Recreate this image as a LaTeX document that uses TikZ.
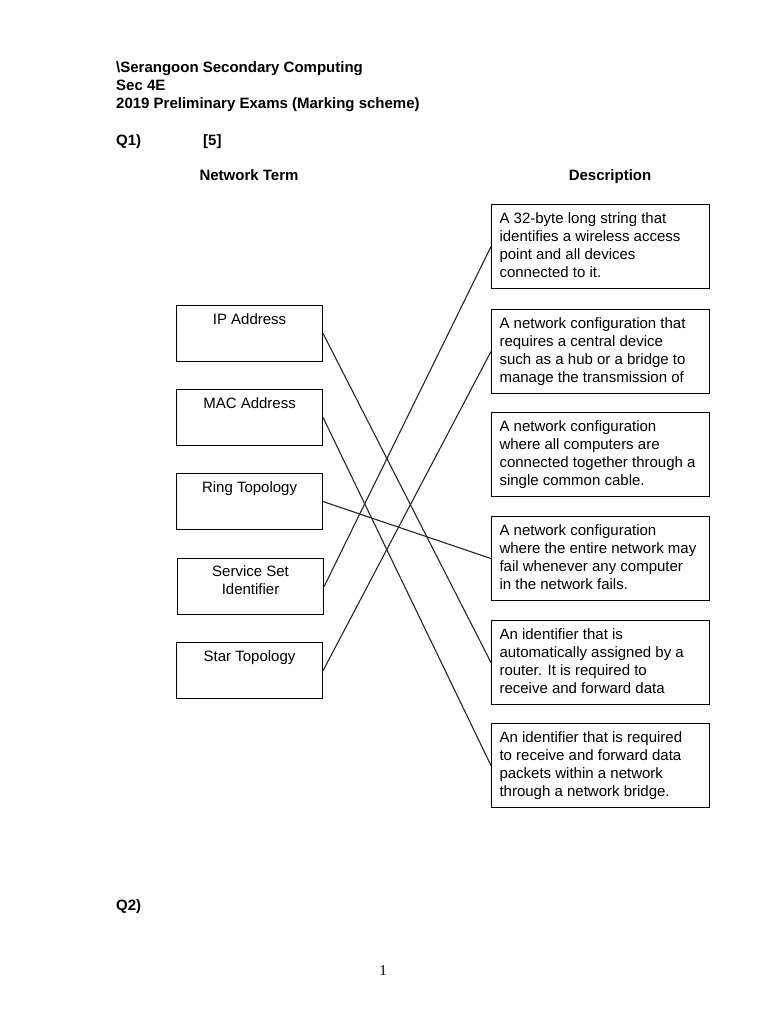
\documentclass[tikz,border=0pt]{standalone}
\usepackage{fontspec}
\setmainfont{Liberation Sans}
\newfontfamily\pagefont{Liberation Serif}
\usetikzlibrary{positioning}

\newcommand{\termtext}[2][18.5pt]{\parbox[t][56pt][t]{146pt}{\centering\rule{0pt}{#1}#2}}
\newcommand{\desctext}[1]{\parbox[t][84pt][t]{202pt}{\raggedright\rule{0pt}{18.5pt}#1}}

\begin{document}
\begin{tikzpicture}[x=1pt,y=-1pt,
font=\fontsize{15}{18}\selectfont,
every node/.style={inner sep=0pt},
heading/.style={anchor=base west,font=\fontsize{15}{18}\selectfont\bfseries},
termbox/.style={draw,line width=1.1pt,anchor=north west},
descbox/.style={draw,line width=1.1pt,anchor=north west,inner xsep=8pt},
match/.style={draw=black!85,line width=1.1pt}]
\useasboundingbox[fill=white] (0,0) rectangle (768,1024);

% header
\node[heading] (school) at (116,72.5) {\textbackslash Serangoon Secondary Computing};
\node[heading] (class) at (116,90.5) {Sec 4E};
\node[heading] (exam) at (116,108.5) {2019 Preliminary Exams (Marking scheme)};
\node[heading] (q1) at (116,145.5) {Q1)};
\node[heading] (marks) at (203,145.5) {[5]};
\node[heading,anchor=base] (termhead) at (249,180.5) {Network Term};
\node[heading,anchor=base] (deschead) at (610,180.5) {Description};

% network terms
\node[termbox] (ip) at (176,305) {\termtext{IP Address}};
\node[termbox] (mac) at (176,389) {\termtext{MAC Address}};
\node[termbox] (ring) at (176,473) {\termtext{Ring Topology}};
\node[termbox] (ssid) at (177,558) {\termtext[17.5pt]{Service Set\\Identifier}};
\node[termbox] (star) at (176,642) {\termtext{Star Topology}};

% descriptions
\node[descbox] (dssid) at (491,204) {\desctext{A 32-byte long string that\\identifies a wireless access\\point and all devices\\connected to it.}};
\node[descbox] (dstar) at (491,309) {\desctext{A network configuration that\\requires a central device\\such as a hub or a bridge to\\manage the transmission of}};
\node[descbox] (dbus) at (491,412) {\desctext{A network configuration\\where all computers are\\connected together through a\\single common cable.}};
\node[descbox] (dring) at (491,516) {\desctext{A network configuration\\where the entire network may\\fail whenever any computer\\in the network fails.}};
\node[descbox] (dip) at (491,620) {\desctext{An identifier that is\\automatically assigned by a\\router. It is required to\\receive and forward data}};
\node[descbox] (dmac) at (491,723) {\desctext{An identifier that is required\\to receive and forward data\\packets within a network\\through a network bridge.}};

% answers
\draw[match] (ip.east) -- (dip.west);
\draw[match] (mac.east) -- (dmac.west);
\draw[match] (ring.east) -- (dring.west);
\draw[match] (ssid.east) -- (dssid.west);
\draw[match] (star.east) -- (dstar.west);

\node[heading] (q2) at (116,910.5) {Q2)};
\node[anchor=base,font=\fontsize{15}{18}\pagefont] (page) at (383,975) {1};
\end{tikzpicture}
\end{document}
